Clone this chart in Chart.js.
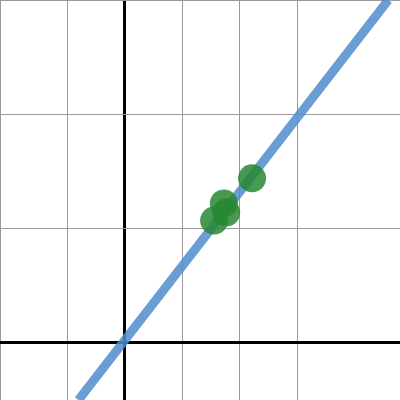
<!DOCTYPE html>
<html>
<head>
<script src="https://cdn.jsdelivr.net/npm/chart.js@4"></script>
<style>html,body{margin:0;padding:0;background:#fff}#wrap{width:400px;height:400px}</style>
</head>
<body>
<div id="wrap"><canvas id="c"></canvas></div>
<script>
// fitted line endpoints and the measured points
const lineX = [-0.81, 4.58];
const lineY = [-1, 6];
const pointX = [2.21, 1.72, 1.76, 1.55];
const pointY = [2.88, 2.44, 2.28, 2.14];

const gridColor = ctx => ctx.tick && ctx.tick.value === 0 ? '#000' : '#999';
const gridWidth = ctx => ctx.tick && ctx.tick.value === 0 ? 3 : 1;

new Chart(document.getElementById('c'), {
  type: 'scatter',
  data: {
    datasets: [
      {
        data: lineX.map((x, i) => ({ x, y: lineY[i] })),
        showLine: true, borderColor: 'rgba(80,140,205,0.85)', borderWidth: 9,
        pointRadius: 0, order: 2
      },
      {
        data: pointX.map((x, i) => ({ x, y: pointY[i] })),
        backgroundColor: 'rgba(40,135,50,0.85)', borderWidth: 0,
        pointRadius: 14, order: 1
      }
    ]
  },
  options: {
    responsive: true, maintainAspectRatio: false, animation: false,
    layout: { padding: 0, autoPadding: false },
    plugins: { legend: { display: false }, tooltip: { enabled: false } },
    scales: {
      x: { min: -2.174, max: 4.783, ticks: { display: false, stepSize: 1, padding: 0 },
           afterFit: s => { s.height = 0; },
           border: { display: false }, grid: { color: gridColor, lineWidth: gridWidth, drawTicks: false } },
      y: { min: -1, max: 6, ticks: { display: false, stepSize: 2, padding: 0 },
           afterFit: s => { s.width = 0; },
           border: { display: false }, grid: { color: gridColor, lineWidth: gridWidth, drawTicks: false } }
    }
  }
});
</script>
</body>
</html>
